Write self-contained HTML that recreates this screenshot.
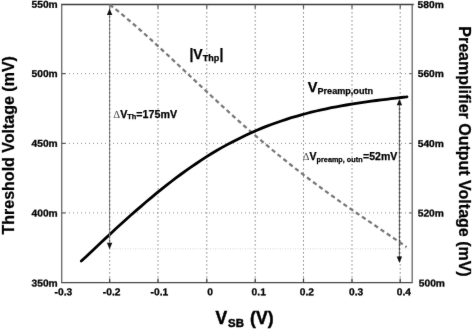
<!DOCTYPE html>
<html><head><meta charset="utf-8"><title>Chart</title>
<style>
html,body{margin:0;padding:0;background:#fff}
svg{display:block}
text{font-family:"Liberation Sans",Arial,sans-serif;font-weight:bold;fill:#000}
.tk text{font-size:10px;stroke:#000;stroke-width:0.28px}
.ax{font-size:16px;stroke:#000;stroke-width:0.25px}
.grid{stroke:#8a8a8a;stroke-width:1;stroke-dasharray:1 3;fill:none}
.lgrid{stroke:#d6d6d6;stroke-width:1;stroke-dasharray:1 1.5;fill:none}
.arr{stroke:#6c6c6c;stroke-width:1;fill:none}
.arrd{stroke:#2c2c2c;stroke-width:1.1;stroke-dasharray:1.4 2.6;fill:none}
.lb{stroke:#000;stroke-width:0.25px}
.sym{stroke:none}
.sym{font-family:"Liberation Serif","DejaVu Serif",serif;font-weight:normal}
</style></head>
<body>
<svg width="472" height="329" viewBox="0 0 472 329">
<rect width="472" height="329" fill="#fff"/>
<defs><filter id="soft" filterUnits="userSpaceOnUse" x="0" y="0" width="472" height="329" color-interpolation-filters="sRGB"><feConvolveMatrix order="3" kernelMatrix="0.01 0.05 0.01 0.05 0.76 0.05 0.01 0.05 0.01" divisor="1" edgeMode="duplicate" preserveAlpha="false"/></filter></defs>
<g filter="url(#soft)">
<rect width="472" height="329" fill="#fff"/>
<g class="grid">
<line x1="109.7" y1="8.4" x2="109.7" y2="282" style="stroke:#484848"/>
<line x1="158.0" y1="8.4" x2="158.0" y2="282" style="stroke:#484848"/>
<line x1="206.8" y1="8.4" x2="206.8" y2="282" style="stroke:#484848"/>
<line x1="255.2" y1="8.4" x2="255.2" y2="282" style="stroke:#484848"/>
<line x1="303.5" y1="8.4" x2="303.5" y2="282" style="stroke:#484848"/>
<line x1="352.0" y1="8.4" x2="352.0" y2="282" style="stroke:#484848"/>
<line x1="400.2" y1="8.4" x2="400.2" y2="282" style="stroke:#484848"/>
<line x1="65" y1="73.6" x2="412" y2="73.6"/>
<line x1="65" y1="143.4" x2="412" y2="143.4"/>
<line x1="65" y1="212.9" x2="412" y2="212.9"/>
</g>
<line class="lgrid" x1="110" y1="248.8" x2="410" y2="248.8"/>
<g fill="none" stroke-width="1.3">
<line x1="61.050000000000004" y1="4.5" x2="413.8" y2="4.5" stroke="#3c3c3c"/>
<line x1="61.050000000000004" y1="282.55" x2="412.84999999999997" y2="282.55" stroke="#484848"/>
<line x1="61.7" y1="4.5" x2="61.7" y2="282.55" stroke="#666"/>
<line x1="412.2" y1="4.5" x2="412.2" y2="282.55" stroke="#666"/>
</g>
<g fill="none" stroke="#3a3a3a" stroke-width="1.2">
<line x1="109.7" y1="278.4" x2="109.7" y2="282.5"/>
<line x1="109.7" y1="4.5" x2="109.7" y2="8.6" stroke="#555"/>
<line x1="158.0" y1="278.4" x2="158.0" y2="282.5"/>
<line x1="158.0" y1="4.5" x2="158.0" y2="8.6" stroke="#555"/>
<line x1="206.8" y1="278.4" x2="206.8" y2="282.5"/>
<line x1="206.8" y1="4.5" x2="206.8" y2="8.6" stroke="#555"/>
<line x1="255.2" y1="278.4" x2="255.2" y2="282.5"/>
<line x1="255.2" y1="4.5" x2="255.2" y2="8.6" stroke="#555"/>
<line x1="303.5" y1="278.4" x2="303.5" y2="282.5"/>
<line x1="303.5" y1="4.5" x2="303.5" y2="8.6" stroke="#555"/>
<line x1="352.0" y1="278.4" x2="352.0" y2="282.5"/>
<line x1="352.0" y1="4.5" x2="352.0" y2="8.6" stroke="#555"/>
<line x1="400.2" y1="278.4" x2="400.2" y2="282.5"/>
<line x1="400.2" y1="4.5" x2="400.2" y2="8.6" stroke="#555"/>
<line x1="61.7" y1="73.6" x2="65.4" y2="73.6" stroke="#555"/>
<line x1="409.4" y1="73.6" x2="412.2" y2="73.6" stroke="#777"/>
<line x1="61.7" y1="143.4" x2="65.4" y2="143.4" stroke="#555"/>
<line x1="409.4" y1="143.4" x2="412.2" y2="143.4" stroke="#777"/>
<line x1="61.7" y1="212.9" x2="65.4" y2="212.9" stroke="#555"/>
<line x1="409.4" y1="212.9" x2="412.2" y2="212.9" stroke="#777"/>
</g>
<path d="M109.7,4.6 L114.7,8.5 L119.7,12.6 L124.7,16.7 L129.7,20.9 L134.7,25.2 L139.7,29.6 L144.7,34.0 L149.7,38.5 L154.7,43.1 L159.7,47.7 L164.7,52.3 L169.7,56.9 L174.7,61.6 L179.7,66.3 L184.7,71.0 L189.7,75.7 L194.7,80.4 L199.7,85.1 L204.7,89.8 L209.7,94.4 L214.7,99.1 L219.7,103.7 L224.7,108.3 L229.7,112.8 L234.7,117.4 L239.7,121.8 L244.7,126.3 L249.7,130.7 L254.7,135.0 L259.7,139.3 L264.7,143.5 L269.7,147.7 L274.7,151.9 L279.7,156.0 L284.7,160.0 L289.7,164.0 L294.7,168.0 L299.7,171.8 L304.7,175.7 L309.7,179.5 L314.7,183.2 L319.7,186.9 L324.7,190.6 L329.7,194.2 L334.7,197.7 L339.7,201.3 L344.7,204.8 L349.7,208.2 L354.7,211.7 L359.7,215.1 L364.7,218.5 L369.7,221.9 L374.7,225.3 L379.7,228.7 L384.7,232.1 L389.7,235.5 L394.7,238.9 L399.7,242.3 L404.7,245.8 L406.6,247.1" fill="none" stroke="#777" stroke-width="2.25" stroke-dasharray="4.3 3.2"/>
<path d="M81.3,261.1 L86.3,256.4 L91.3,251.7 L96.3,246.9 L101.3,242.2 L106.3,237.6 L111.3,232.9 L116.3,228.3 L121.3,223.8 L126.3,219.3 L131.3,214.8 L136.3,210.4 L141.3,206.1 L146.3,201.8 L151.3,197.6 L156.3,193.4 L161.3,189.4 L166.3,185.4 L171.3,181.5 L176.3,177.7 L181.3,174.0 L186.3,170.4 L191.3,166.9 L196.3,163.5 L201.3,160.2 L206.3,156.9 L211.3,153.8 L216.3,150.8 L221.3,147.9 L226.3,145.1 L231.3,142.4 L236.3,139.9 L241.3,137.4 L246.3,135.0 L251.3,132.7 L256.3,130.5 L261.3,128.4 L266.3,126.4 L271.3,124.5 L276.3,122.7 L281.3,121.0 L286.3,119.3 L291.3,117.7 L296.3,116.3 L301.3,114.8 L306.3,113.5 L311.3,112.2 L316.3,111.0 L321.3,109.9 L326.3,108.8 L331.3,107.7 L336.3,106.8 L341.3,105.8 L346.3,105.0 L351.3,104.1 L356.3,103.3 L361.3,102.6 L366.3,101.9 L371.3,101.2 L376.3,100.5 L381.3,99.9 L386.3,99.3 L391.3,98.7 L396.3,98.1 L401.3,97.5 L406.3,96.9 L407.0,96.8" fill="none" stroke="#000" stroke-width="2.8" stroke-linejoin="round" stroke-linecap="round"/>
<line class="arr" x1="109.6" y1="5" x2="109.6" y2="245" style="stroke:#858585"/>
<line class="arrd" x1="109.6" y1="16.2" x2="109.6" y2="243" style="stroke:#4a4a4a"/>
<polygon points="109.6,8.5 106.9,14.9 112.3,14.9" fill="#111"/>
<polygon points="109.6,249.2 106.9,242.8 112.3,242.8" fill="#111"/>
<line class="arr" x1="399.4" y1="104" x2="399.4" y2="258" style="stroke:#5c5c5c"/>
<line class="arrd" x1="399.4" y1="108.2" x2="399.4" y2="257"/>
<polygon points="399.4,98.9 396.7,105.3 402.1,105.3" fill="#111"/>
<polygon points="399.4,263.0 396.7,256.5 402.1,256.5" fill="#111"/>
<g class="tk">
<text transform="translate(31.50,7.75) rotate(0.05) scale(1.025,1)">550m</text>
<text transform="translate(31.50,76.90) rotate(0.05) scale(1.025,1)">500m</text>
<text transform="translate(31.50,146.70) rotate(0.05) scale(1.025,1)">450m</text>
<text transform="translate(31.50,216.40) rotate(0.05) scale(1.025,1)">400m</text>
<text transform="translate(31.50,286.55) rotate(0.05) scale(1.025,1)">350m</text>
<text transform="translate(417.60,7.90) rotate(0.05) scale(1.025,1)">580m</text>
<text transform="translate(417.70,77.00) rotate(0.05) scale(1.025,1)">560m</text>
<text transform="translate(417.70,147.10) rotate(0.05) scale(1.025,1)">540m</text>
<text transform="translate(417.70,216.50) rotate(0.05) scale(1.025,1)">520m</text>
<text transform="translate(418.80,286.50) rotate(0.05) scale(1.025,1)">500m</text>
<text transform="translate(54.60,295.15) rotate(0.05) scale(1.025,1)">-0.3</text>
<text transform="translate(102.80,295.15) rotate(0.05) scale(1.025,1)">-0.2</text>
<text transform="translate(150.60,295.15) rotate(0.05) scale(1.025,1)">-0.1</text>
<text transform="translate(207.20,295.15) rotate(0.05) scale(1.025,1)">0</text>
<text transform="translate(251.60,295.15) rotate(0.05) scale(1.025,1)">0.1</text>
<text transform="translate(299.80,295.15) rotate(0.05) scale(1.025,1)">0.2</text>
<text transform="translate(349.00,295.15) rotate(0.05) scale(1.025,1)">0.3</text>
<text transform="translate(396.70,295.15) rotate(0.05) scale(1.025,1)">0.4</text>
</g>
<text class="ax" text-anchor="middle" transform="translate(13.7,145.3) rotate(-90)">Threshold Voltage (mV)</text>
<text class="ax" text-anchor="middle" transform="translate(459.4,151.5) rotate(90)">Preamplifier Output Voltage (mV)</text>
<g style="stroke:#000;stroke-width:0.45px"><text x="215.6" y="323.5" style="font-size:17.5px">V</text><text x="228.0" y="326.5" style="font-size:11.4px;letter-spacing:0.2px">SB</text><text x="249.9" y="323.5" style="font-size:17.5px;letter-spacing:0.2px">(V)</text></g>
<text class="lb" x="189.4" y="59.2" style="font-size:14px">|V<tspan style="font-size:9px;letter-spacing:0.1px" dy="2">Thp</tspan><tspan dy="-2">|</tspan></text>
<text class="lb" x="307.8" y="91.7" style="font-size:14.5px">V<tspan style="font-size:9.1px" dy="1.9">Preamp,outn</tspan></text>
<text class="lb" x="113.3" y="118" style="font-size:10.7px"><tspan class="sym" fill="#444">Δ</tspan>V<tspan style="font-size:7.4px" dy="1.1">Th</tspan><tspan dy="-1.1">=175mV</tspan></text>
<text class="lb" x="302.8" y="160.3" style="font-size:10.5px"><tspan class="sym" fill="#444">Δ</tspan>V<tspan style="font-size:7.2px;letter-spacing:0.04px" dy="1.8">preamp, outn</tspan><tspan dy="-1.8" dx="0.5">=52mV</tspan></text>
</g>
</svg>
</body></html>
